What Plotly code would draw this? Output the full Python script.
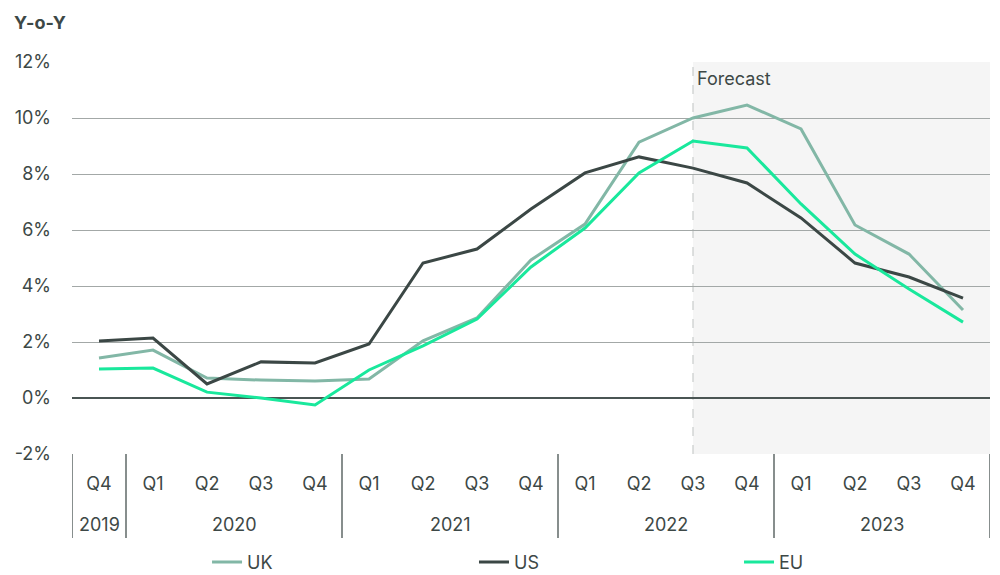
import plotly.graph_objects as go

years = ["2019", "2020", "2020", "2020", "2020", "2021", "2021", "2021", "2021",
         "2022", "2022", "2022", "2022", "2023", "2023", "2023", "2023"]
quarters = ["Q4", "Q1", "Q2", "Q3", "Q4", "Q1", "Q2", "Q3", "Q4",
            "Q1", "Q2", "Q3", "Q4", "Q1", "Q2", "Q3", "Q4"]

uk = [1.43, 1.71, 0.71, 0.64, 0.61, 0.68, 2.04, 2.86, 4.93,
      6.21, 9.14, 10.0, 10.46, 9.61, 6.18, 5.14, 3.14]
us = [2.04, 2.14, 0.5, 1.29, 1.25, 1.93, 4.82, 5.32, 6.75,
      8.04, 8.61, 8.21, 7.68, 6.43, 4.82, 4.32, 3.57]
eu = [1.04, 1.07, 0.21, 0.0, -0.25, 1.0, 1.86, 2.82, 4.68,
      6.07, 8.04, 9.18, 8.93, 6.93, 5.14, 3.89, 2.71]

forecast_start = 11  # index of Q3 2022
ytick_vals = [-2, 0, 2, 4, 6, 8, 10, 12]
ytick_text = ["-2%", "0%", "2%", "4%", "6%", "8%", "10%", "12%"]

FONT = "Inter, Roboto, sans-serif"
TXT = "#3d4846"

xs = list(range(len(quarters)))

fig = go.Figure()
series = [("UK", uk, "#82b7a6", "legend", 0.1471),
          ("US", us, "#3b4745", "legend2", 0.4379),
          ("EU", eu, "#19e89c", "legend3", 0.7266)]
for name, vals, color, lg, _ in series:
    fig.add_trace(go.Scatter(x=xs, y=vals, name=name, mode="lines", legend=lg,
                             line=dict(color=color, width=3)))

# forecast shading and marker
fig.add_shape(type="rect", xref="x", yref="y", x0=forecast_start, x1=16.5, y0=-2, y1=12,
              fillcolor="#f5f5f5", line=dict(width=0), layer="below")
fig.add_shape(type="line", xref="x", yref="y", x0=forecast_start, x1=forecast_start, y0=-2, y1=12,
              line=dict(color="#c8cccb", width=1.2, dash="dash"), layer="below")
fig.add_annotation(x=forecast_start, y=12, xref="x", yref="y", text="Forecast", showarrow=False,
                   xanchor="left", yanchor="top", xshift=2, yshift=-4,
                   font=dict(size=18, color=TXT, family=FONT))
fig.add_annotation(x=-0.065, y=1.102, xref="paper", yref="paper", text="<b>Y-o-Y</b>",
                   showarrow=False, xanchor="left", yanchor="middle",
                   font=dict(size=18, color=TXT, family=FONT))

# year groups: labels and dividers
groups = []
for i, yv in enumerate(years):
    if not groups or groups[-1][0] != yv:
        groups.append([yv, i, i])
    else:
        groups[-1][2] = i
div_bottom = -0.214
for yv, i0, i1 in groups:
    fig.add_annotation(x=(i0 + i1) / 2, y=-0.1786, xref="x", yref="paper", text=yv,
                       showarrow=False, xanchor="center", yanchor="middle",
                       font=dict(size=18, color=TXT, family=FONT))
    fig.add_shape(type="line", xref="x", yref="paper", x0=i0 - 0.5, x1=i0 - 0.5,
                  y0=0, y1=div_bottom, line=dict(color="#5f6967", width=1.5))
fig.add_shape(type="line", xref="x", yref="paper", x0=groups[-1][2] + 0.5, x1=groups[-1][2] + 0.5,
              y0=0, y1=div_bottom, line=dict(color="#5f6967", width=1.5))

legend_common = dict(orientation="h", xanchor="left", y=-0.276, yanchor="middle",
                     font=dict(size=18, color=TXT, family=FONT), bgcolor="rgba(0,0,0,0)")
fig.update_layout(
    width=1000, height=575,
    margin=dict(l=72, r=10, t=62, b=121, autoexpand=False),
    paper_bgcolor="white", plot_bgcolor="rgba(0,0,0,0)",
    font=dict(family=FONT, size=18, color=TXT),
    showlegend=True,
    legend=dict(x=series[0][4], **legend_common),
    legend2=dict(x=series[1][4], **legend_common),
    legend3=dict(x=series[2][4], **legend_common),
    xaxis=dict(range=[-0.5, 16.5], tickmode="array", tickvals=xs, ticktext=quarters,
               showgrid=False, zeroline=False, showline=False, ticks="", automargin=False,
               ticklabelstandoff=17, tickfont=dict(size=18, color=TXT, family=FONT)),
    yaxis=dict(range=[-2, 12], tickmode="array", tickvals=ytick_vals, ticktext=ytick_text,
               showgrid=True, gridcolor="#a3a8a7", gridwidth=1, zeroline=True,
               zerolinecolor="#4a5553", zerolinewidth=1.5, automargin=False,
               tickfont=dict(size=18, color=TXT, family=FONT),
               ticklabelstandoff=20, showline=False),
)

fig.write_html("out.html")
